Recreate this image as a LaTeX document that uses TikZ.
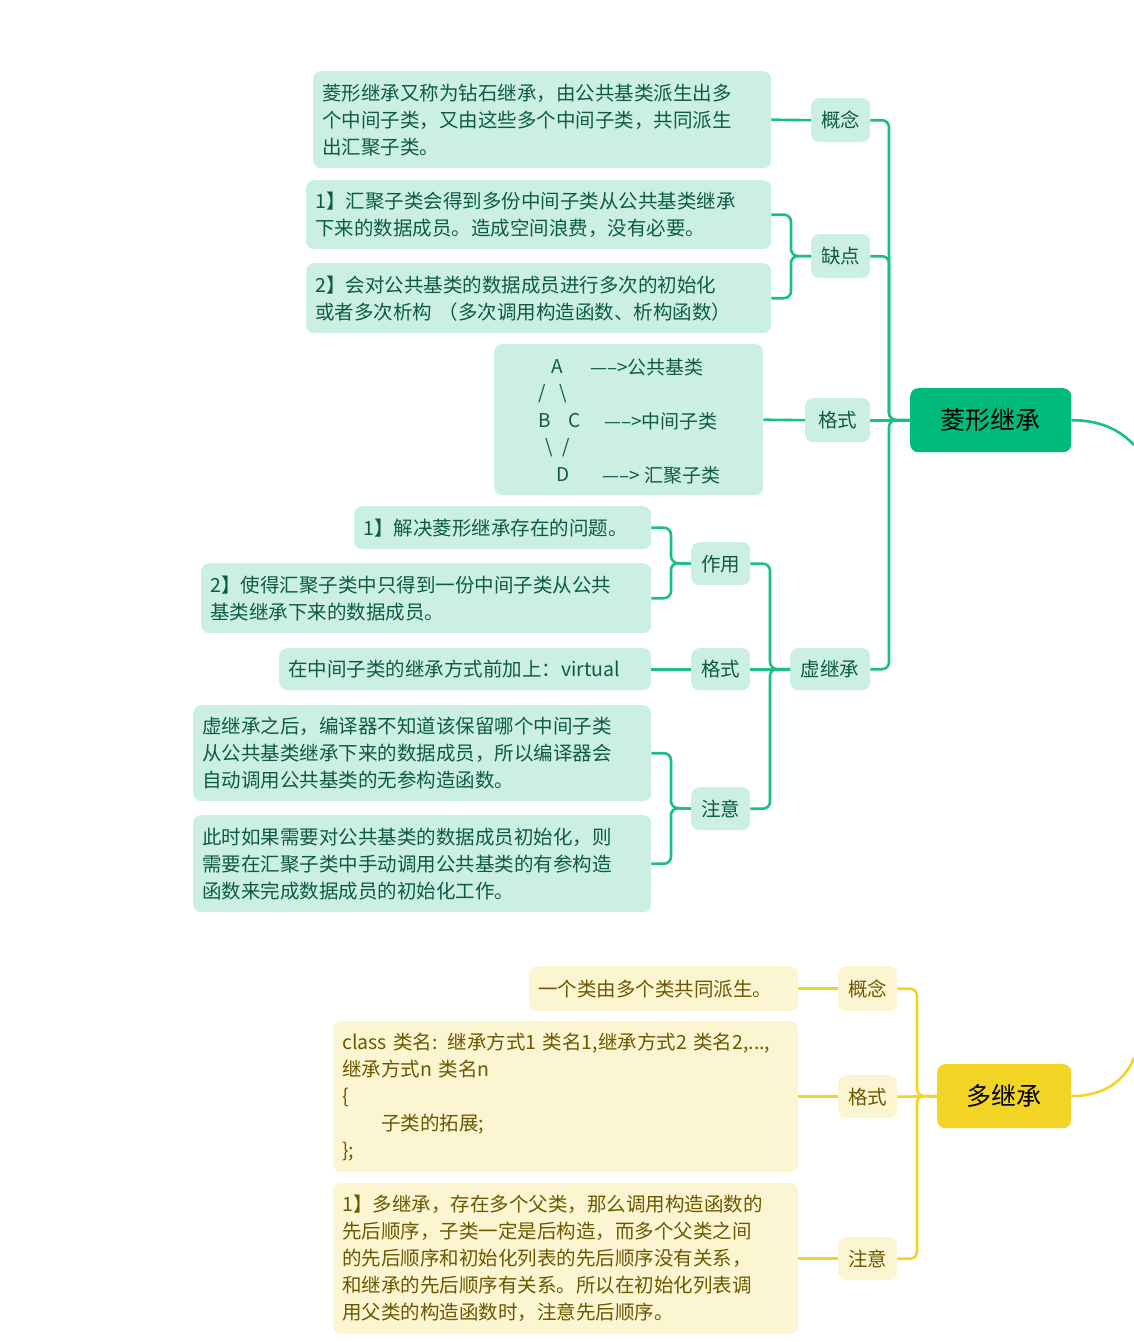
\documentclass[tikz,border=0pt]{standalone}
\usepackage{fontspec}
\setmainfont{Noto Sans CJK SC}
\definecolor{gmain}{HTML}{00BA7A}
\definecolor{gline}{HTML}{19BF86}
\definecolor{gfill}{HTML}{CBF0E3}
\definecolor{gtext}{HTML}{0E5C3F}
\definecolor{ymain}{HTML}{F2D424}
\definecolor{yline}{HTML}{F2D424}
\definecolor{yfill}{HTML}{FCF5D2}
\definecolor{ytext}{HTML}{6B5800}
\tikzset{
 gbox/.style={fill=gfill,text=gtext,rounded corners=8pt,inner xsep=9pt,inner ysep=0pt},
 ybox/.style={fill=yfill,text=ytext,rounded corners=8pt,inner xsep=9pt,inner ysep=0pt},
 gl/.style={draw=gline,line width=2.6pt,rounded corners=7pt},
 yl/.style={draw=yline,line width=2.6pt,rounded corners=7pt},
 dg/.style={text=gtext,inner sep=0pt,anchor=west,font=\fontsize{19}{22}\selectfont},
}
\newcommand\bx[7]{%
 \pgfmathsetmacro\bw{#4-#2}\pgfmathsetmacro\bh{#5-#3}\pgfmathsetmacro\tw{#4-#2-18}%
 \node[#6,anchor=north west,minimum width=\bw pt,minimum height=\bh pt,text width=\tw pt,align=left,font=\fontsize{19.5}{27}\selectfont] (#1) at (#2,#3) {#7};}
\newcommand\lb[7]{%
 \pgfmathsetmacro\bw{#4-#2}\pgfmathsetmacro\bh{#5-#3}%
 \node[#6,anchor=north west,minimum width=\bw pt,minimum height=\bh pt,inner xsep=0pt,align=center] (#1) at (#2,#3) {#7};}
\begin{document}
\begin{tikzpicture}[x=1pt,y=-1pt]
\useasboundingbox (0,0) rectangle (1134,1342);
% green
\bx{a1}{313}{71}{771}{168}{gbox}{菱形继承又称为钻石继承，由公共基类派生出多\\个中间子类，又由这些多个中间子类，共同派生\\出汇聚子类。}
\lb{gn}{811}{98}{870}{142}{gbox,font=\fontsize{19.5}{24}\selectfont}{概念}
\bx{b1}{306}{180}{771}{249}{gbox}{1】汇聚子类会得到多份中间子类从公共基类继承\\下来的数据成员。造成空间浪费，没有必要。}
\bx{b2}{306}{263}{771}{333}{gbox}{2】会对公共基类的数据成员进行多次的初始化\\或者多次析构 （多次调用构造函数、析构函数）}
\lb{qd}{811}{234}{870}{278}{gbox,font=\fontsize{19.5}{24}\selectfont}{缺点}
\lb{c}{494}{344}{763}{495}{gbox}{}
\node[dg] (cA) at (551,367) {A};
\node[dg] (cA2) at (590,367) {----->公共基类};
\node[dg] (cs1) at (538,394) {/\hspace{14pt}\textbackslash};
\node[dg] (cB) at (538,421) {B\hspace{18pt}C};
\node[dg] (cB2) at (604,421) {----->中间子类};
\node[dg] (cs2) at (545,448) {\textbackslash\hspace{10pt}/};
\node[dg] (cD) at (556,475) {D};
\node[dg] (cD2) at (602,475) {-----> 汇聚子类};
\lb{gs}{805}{398}{870}{442}{gbox,font=\fontsize{19.5}{24}\selectfont}{格式}
\lb{gm}{910}{388}{1071}{452}{gbox,fill=gmain,text=black,font=\fontsize{25}{30}\selectfont}{菱形继承}
\bx{d1}{354}{506}{651}{549}{gbox}{1】解决菱形继承存在的问题。}
\bx{d2}{201}{563}{651}{633}{gbox}{2】使得汇聚子类中只得到一份中间子类从公共\\基类继承下来的数据成员。}
\lb{zy}{691}{542}{750}{585}{gbox,font=\fontsize{19.5}{24}\selectfont}{作用}
\bx{e}{279}{648}{651}{690}{gbox}{在中间子类的继承方式前加上：virtual}
\lb{gs2}{691}{648}{750}{690}{gbox,font=\fontsize{19.5}{24}\selectfont}{格式}
\lb{xj}{790}{648}{870}{690}{gbox,font=\fontsize{19.5}{24}\selectfont}{虚继承}
\bx{f1}{193}{705}{651}{801}{gbox}{虚继承之后，编译器不知道该保留哪个中间子类\\从公共基类继承下来的数据成员，所以编译器会\\自动调用公共基类的无参构造函数。}
\bx{f2}{193}{815}{651}{912}{gbox}{此时如果需要对公共基类的数据成员初始化，则\\需要在汇聚子类中手动调用公共基类的有参构造\\函数来完成数据成员的初始化工作。}
\lb{zyi}{691}{787}{750}{830}{gbox,font=\fontsize{19.5}{24}\selectfont}{注意}
\coordinate (gr) at (1134,445);
\coordinate (yr) at (1134,1058);
\draw[gl] (gm.west) -- (889,420) |- (gn.east);
\draw[gl] (gm.west) -- (889,420) |- (qd.east);
\draw[gl] (gm.west) -- (gs.east);
\draw[gl] (gm.west) -- (889,420) |- (xj.east);
\draw[gl,rounded corners=0pt] (gm.east) .. controls (1100,420) and (1120,430) .. (gr);
\draw[gl] (gn.west) -- (a1.east);
\draw[gl] (qd.west) -- (791,256) |- (b1.east);
\draw[gl] (qd.west) -- (791,256) |- (b2.east);
\draw[gl] (gs.west) -- (c.east);
\draw[gl] (xj.west) -- (770,669) |- (zy.east);
\draw[gl] (xj.west) -- (gs2.east);
\draw[gl] (xj.west) -- (770,669) |- (zyi.east);
\draw[gl] (zy.west) -- (671,563) |- (d1.east);
\draw[gl] (zy.west) -- (671,563) |- (d2.east);
\draw[gl] (gs2.west) -- (e.east);
\draw[gl] (zyi.west) -- (671,808) |- (f1.east);
\draw[gl] (zyi.west) -- (671,808) |- (f2.east);
% yellow
\bx{g1}{529}{966}{798}{1011}{ybox}{一个类由多个类共同派生。}
\lb{yn}{838}{966}{897}{1011}{ybox,font=\fontsize{19.5}{24}\selectfont}{概念}
\bx{g2}{333}{1021}{798}{1172}{ybox}{class 类名: 继承方式1 类名1,继承方式2 类名2,...,\\继承方式n 类名n\\\{\\\hspace*{2em}子类的拓展;\\\};}
\lb{ys}{838}{1075}{897}{1118}{ybox,font=\fontsize{19.5}{24}\selectfont}{格式}
\bx{g3}{333}{1183}{798}{1334}{ybox}{1】多继承，存在多个父类，那么调用构造函数的\\先后顺序，子类一定是后构造，而多个父类之间\\的先后顺序和初始化列表的先后顺序没有关系，\\和继承的先后顺序有关系。所以在初始化列表调\\用父类的构造函数时，注意先后顺序。}
\lb{yz}{838}{1237}{897}{1280}{ybox,font=\fontsize{19.5}{24}\selectfont}{注意}
\lb{ym}{937}{1064}{1071}{1128}{ybox,fill=ymain,text=black,font=\fontsize{25}{30}\selectfont}{多继承}
\draw[yl] (ym.west) -- (917,1096) |- (yn.east);
\draw[yl] (ym.west) -- (ys.east);
\draw[yl] (ym.west) -- (917,1096) |- (yz.east);
\draw[yl,rounded corners=0pt] (ym.east) .. controls (1105,1096) and (1125,1080) .. (yr);
\draw[yl] (yn.west) -- (g1.east);
\draw[yl] (ys.west) -- (g2.east);
\draw[yl] (yz.west) -- (g3.east);
\end{tikzpicture}
\end{document}
